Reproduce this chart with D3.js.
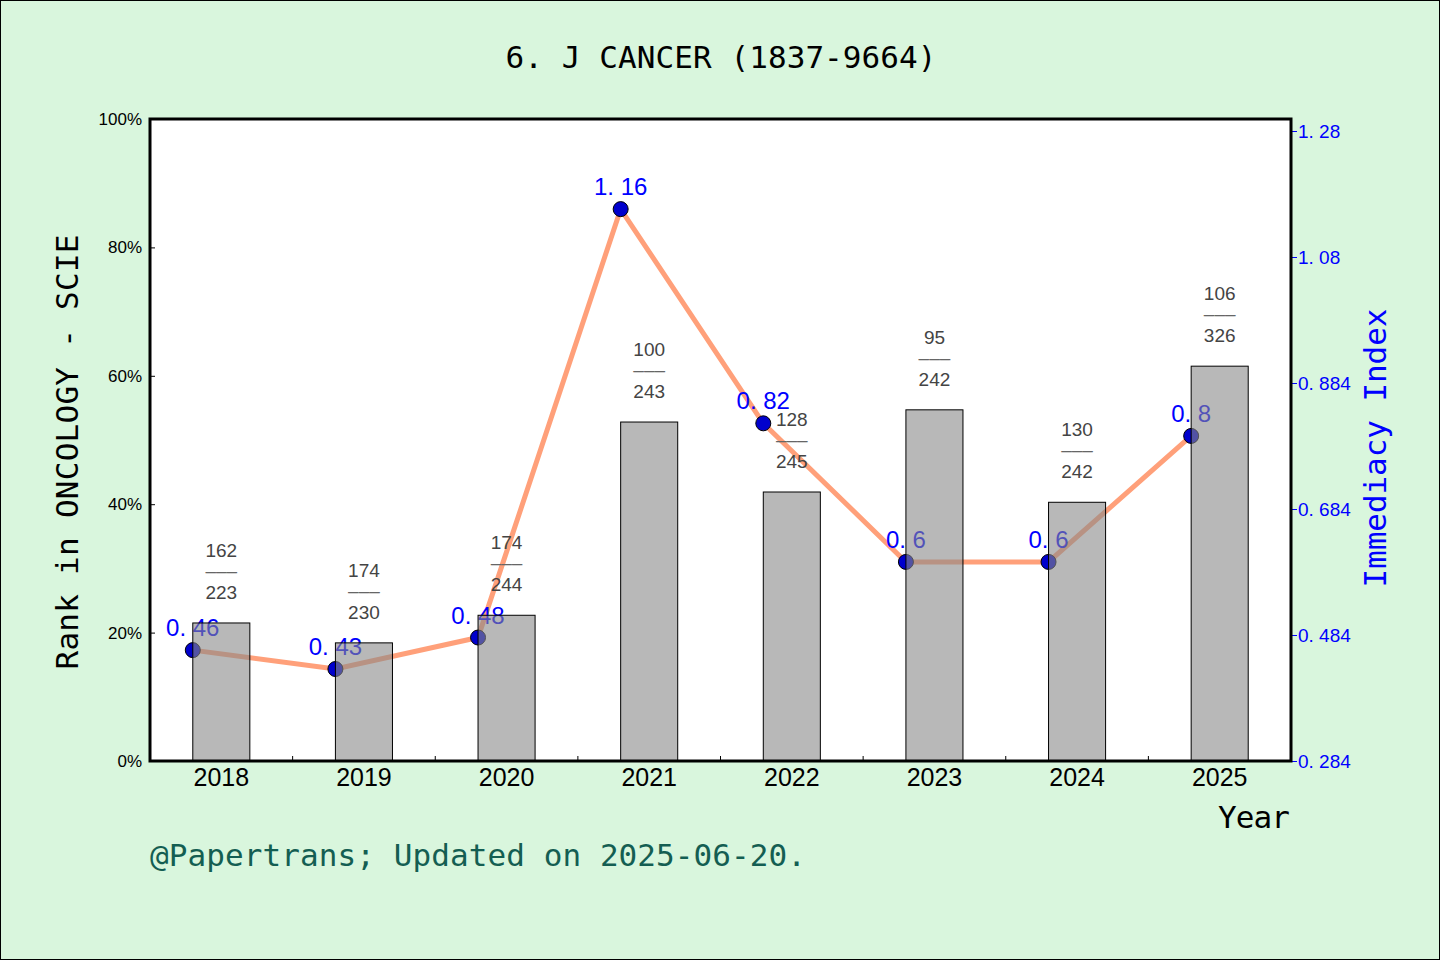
<!DOCTYPE html>
<html>
<head>
<meta charset="utf-8">
<script src="https://cdn.jsdelivr.net/npm/d3@7"></script>
<style>
  body { margin: 0; background: #d9f6dd; }
  svg { display: block; }
</style>
</head>
<body>
<div id="chart-area"></div>
<script>
// data
var years = ["2018", "2019", "2020", "2021", "2022", "2023", "2024", "2025"];
var rankPct = [21.5, 18.4, 22.7, 52.8, 41.9, 54.7, 40.3, 61.5];
var rankNum = ["162", "174", "174", "100", "128", "95", "130", "106"];
var rankTotal = ["223", "230", "244", "243", "245", "242", "242", "326"];
var immediacy = [0.46, 0.43, 0.48, 1.16, 0.82, 0.6, 0.6, 0.8];
var immLabels = ["0. 46", "0. 43", "0. 48", "1. 16", "0. 82", "0. 6", "0. 6", "0. 8"];
var rightTicks = [0.284, 0.484, 0.684, 0.884, 1.084, 1.284];
var rightTickLabels = ["0. 284", "0. 484", "0. 684", "0. 884", "1. 08", "1. 28"];

var W = 1440, H = 960;
var margin = { left: 150, right: 149, top: 119, bottom: 199 };
var width = W - margin.left - margin.right,
    height = H - margin.top - margin.bottom;

var mono = "'DejaVu Sans Mono', 'Liberation Mono', monospace";
var sans = "'Liberation Sans', Arial, sans-serif";

var svg = d3.select("#chart-area")
    .append("svg")
        .attr("width", W)
        .attr("height", H);

svg.append("rect")
    .attr("x", 0.5).attr("y", 0.5)
    .attr("width", W - 1).attr("height", H - 1)
    .attr("fill", "#d9f6dd")
    .attr("stroke", "#000");

var g = svg.append("g")
    .attr("transform", "translate(" + margin.left + "," + margin.top + ")");

g.append("rect")
    .attr("width", width).attr("height", height)
    .attr("fill", "#fff");

// scales
var x = d3.scaleBand()
    .domain(years)
    .range([0, width])
    .paddingInner(0.6)
    .paddingOuter(0.3);

var y = d3.scaleLinear()
    .domain([0, 100])
    .range([height, 0]);

var yRight = d3.scaleLinear()
    .domain([0.284, 0.284 + height / 630])
    .range([height, 0]);

// line + points (drawn under the bars)
var line = d3.line()
    .x(function(d, i) { return x(years[i]); })
    .y(function(d) { return yRight(d); });

g.append("path")
    .datum(immediacy)
    .attr("fill", "none")
    .attr("stroke", "#ffa07a")
    .attr("stroke-width", 5)
    .attr("d", line);

g.selectAll(".pt")
    .data(immediacy)
    .enter().append("circle")
        .attr("class", "pt")
        .attr("cx", function(d, i) { return x(years[i]); })
        .attr("cy", function(d) { return yRight(d); })
        .attr("r", 7.5)
        .attr("fill", "#0000cd")
        .attr("stroke", "#000")
        .attr("stroke-width", 1);

g.selectAll(".ptlabel")
    .data(immediacy)
    .enter().append("text")
        .attr("class", "ptlabel")
        .attr("x", function(d, i) { return x(years[i]); })
        .attr("y", function(d) { return yRight(d) - 14; })
        .attr("text-anchor", "middle")
        .attr("font-family", sans)
        .attr("font-size", "24px")
        .attr("fill", "#0000ff")
        .text(function(d, i) { return immLabels[i]; });

// bars
g.selectAll(".bar")
    .data(rankPct)
    .enter().append("rect")
        .attr("class", "bar")
        .attr("x", function(d, i) { return x(years[i]); })
        .attr("width", x.bandwidth())
        .attr("y", function(d) { return y(d); })
        .attr("height", function(d) { return height - y(d); })
        .attr("fill", "#888888")
        .attr("fill-opacity", 0.6)
        .attr("stroke", "#000")
        .attr("stroke-width", 1);

// rank labels above bars
var lab = g.selectAll(".rlab")
    .data(rankPct)
    .enter().append("g")
        .attr("class", "rlab")
        .attr("transform", function(d, i) {
            return "translate(" + (x(years[i]) + x.bandwidth() / 2) + "," + y(d) + ")";
        })
        .attr("font-family", sans)
        .attr("font-size", "19px")
        .attr("fill", "#444")
        .attr("text-anchor", "middle");

lab.append("text").attr("y", -66).text(function(d, i) { return rankNum[i]; });
lab.append("text").attr("y", -46).attr("fill", "#666").text("\u2013\u2013\u2013");
lab.append("text").attr("y", -24).text(function(d, i) { return rankTotal[i]; });

// left axis
var yAxis = g.append("g")
    .call(d3.axisLeft(y).ticks(5).tickSize(-5).tickPadding(8)
        .tickFormat(function(d) { return d + "%"; }));
yAxis.select(".domain").remove();
yAxis.selectAll("text")
    .attr("font-family", sans)
    .attr("font-size", "17px")
    .attr("fill", "#000");

// right axis
var yrAxis = g.append("g")
    .attr("transform", "translate(" + width + ",0)")
    .call(d3.axisRight(yRight).tickValues(rightTicks).tickSize(6).tickPadding(1)
        .tickFormat(function(d, i) { return rightTickLabels[i]; }));
yrAxis.select(".domain").remove();
yrAxis.selectAll("line").attr("stroke", "#0000ff");
yrAxis.selectAll("text")
    .attr("font-family", sans)
    .attr("font-size", "19px")
    .attr("fill", "#0000ff");

// bottom axis
var xAxis = g.append("g")
    .attr("transform", "translate(0," + height + ")")
    .call(d3.axisBottom(x).tickSize(0).tickPadding(7));
xAxis.select(".domain").remove();
xAxis.selectAll("text")
    .attr("font-family", sans)
    .attr("font-size", "25px")
    .attr("fill", "#000");

// small ticks between categories
var step = x.step();
g.selectAll(".mtick")
    .data(years.slice(1))
    .enter().append("line")
        .attr("class", "mtick")
        .attr("x1", function(d, i) { return step * (i + 1); })
        .attr("x2", function(d, i) { return step * (i + 1); })
        .attr("y1", height)
        .attr("y2", height - 5)
        .attr("stroke", "#000");

// frame
g.append("rect")
    .attr("width", width).attr("height", height)
    .attr("fill", "none")
    .attr("stroke", "#000")
    .attr("stroke-width", 3);

// titles
svg.append("text")
    .attr("x", 721).attr("y", 68)
    .attr("text-anchor", "middle")
    .attr("font-family", mono)
    .attr("font-size", "31px")
    .attr("textLength", 431)
    .text("6. J CANCER (1837-9664)");

svg.append("text")
    .attr("transform", "translate(78,452) rotate(-90)")
    .attr("text-anchor", "middle")
    .attr("font-family", mono)
    .attr("font-size", "31px")
    .attr("textLength", 435)
    .text("Rank in ONCOLOGY - SCIE");

svg.append("text")
    .attr("transform", "translate(1386,448) rotate(-90)")
    .attr("text-anchor", "middle")
    .attr("font-family", mono)
    .attr("font-size", "31px")
    .attr("fill", "#0000ff")
    .attr("textLength", 279)
    .text("Immediacy Index");

svg.append("text")
    .attr("x", 1290).attr("y", 828)
    .attr("text-anchor", "end")
    .attr("font-family", mono)
    .attr("font-size", "31px")
    .attr("textLength", 72)
    .text("Year");

svg.append("text")
    .attr("x", 150).attr("y", 866)
    .attr("font-family", mono)
    .attr("font-size", "31px")
    .attr("fill", "#145e52")
    .attr("textLength", 656)
    .text("@Papertrans; Updated on 2025-06-20.");
</script>
</body>
</html>
